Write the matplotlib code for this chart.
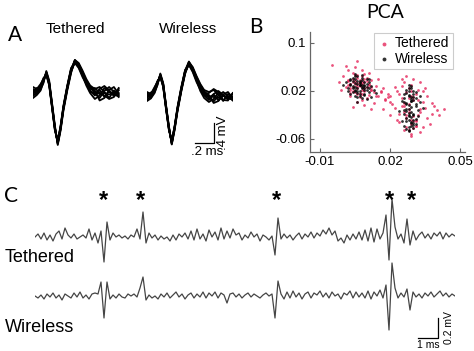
import numpy as np
import matplotlib
matplotlib.use("Agg")
import matplotlib.pyplot as plt

W, H = 474, 351
plt.rcParams['font.family'] = ['Liberation Sans', 'DejaVu Sans']

# ---------------- Panel A: overlaid spike waveforms (ms, mV) ----------------
t_wave = [0.00, 0.04, 0.08, 0.11, 0.14, 0.17, 0.20, 0.23, 0.26, 0.29, 0.32, 0.36,
          0.40, 0.44, 0.48, 0.52, 0.56, 0.60, 0.65, 0.70, 0.75, 0.80, 0.85, 0.90]
tethered_spikes = [
    [0.00, 0.05, 0.12, 0.25, 0.40, 0.20, -0.25, -0.70, -1.00, -0.70, -0.30, 0.10, 0.45, 0.64, 0.55, 0.38, 0.22, 0.10, 0.02, -0.02, 0.00, -0.03, 0.01, 0.00],
    [0.08, 0.02, 0.15, 0.30, 0.36, 0.15, -0.30, -0.75, -0.96, -0.65, -0.25, 0.15, 0.50, 0.60, 0.50, 0.32, 0.18, 0.05, -0.05, 0.06, -0.08, 0.04, -0.06, 0.05],
    [-0.06, 0.00, 0.08, 0.20, 0.44, 0.25, -0.20, -0.65, -1.04, -0.75, -0.35, 0.05, 0.40, 0.66, 0.60, 0.45, 0.28, 0.15, 0.08, 0.12, 0.02, -0.10, 0.05, -0.04],
    [0.12, 0.08, 0.18, 0.28, 0.38, 0.18, -0.28, -0.72, -0.98, -0.68, -0.28, 0.12, 0.48, 0.62, 0.52, 0.35, 0.15, 0.00, -0.12, -0.05, 0.10, 0.02, -0.02, 0.08],
    [-0.10, -0.04, 0.05, 0.22, 0.42, 0.22, -0.22, -0.68, -1.02, -0.72, -0.32, 0.08, 0.42, 0.63, 0.58, 0.42, 0.25, 0.12, 0.05, -0.15, -0.10, 0.06, 0.12, -0.02],
    [0.03, 0.10, 0.10, 0.26, 0.39, 0.19, -0.26, -0.71, -0.99, -0.69, -0.29, 0.11, 0.46, 0.65, 0.56, 0.40, 0.20, 0.08, 0.10, 0.00, -0.05, -0.12, -0.08, 0.10],
    [-0.03, 0.06, 0.14, 0.24, 0.41, 0.21, -0.24, -0.69, -1.01, -0.71, -0.31, 0.09, 0.44, 0.61, 0.54, 0.36, 0.24, 0.14, -0.02, 0.08, 0.14, 0.05, -0.04, -0.06],
    [0.05, -0.02, 0.10, 0.27, 0.37, 0.17, -0.27, -0.73, -0.97, -0.67, -0.27, 0.13, 0.47, 0.66, 0.57, 0.37, 0.19, 0.02, 0.00, -0.10, 0.04, 0.12, 0.02, -0.08],
]
wireless_spikes = [
    [0.00, 0.06, 0.15, 0.28, 0.44, 0.25, -0.20, -0.62, -0.92, -0.62, -0.25, 0.15, 0.50, 0.68, 0.55, 0.36, 0.20, 0.08, 0.02, 0.00, -0.02, 0.02, 0.00, 0.01],
    [0.07, 0.02, 0.18, 0.32, 0.40, 0.20, -0.25, -0.66, -0.88, -0.58, -0.20, 0.20, 0.54, 0.64, 0.50, 0.30, 0.15, 0.03, -0.06, 0.05, -0.07, 0.03, -0.05, 0.06],
    [-0.05, 0.00, 0.10, 0.24, 0.47, 0.28, -0.16, -0.58, -0.95, -0.66, -0.29, 0.11, 0.46, 0.70, 0.60, 0.42, 0.26, 0.14, 0.10, 0.14, 0.04, -0.08, 0.06, -0.03],
    [0.10, 0.06, 0.20, 0.30, 0.42, 0.22, -0.22, -0.64, -0.90, -0.60, -0.22, 0.18, 0.52, 0.66, 0.52, 0.33, 0.12, -0.02, -0.10, -0.04, 0.09, 0.03, -0.03, 0.07],
    [-0.08, -0.03, 0.08, 0.25, 0.45, 0.26, -0.18, -0.60, -0.94, -0.64, -0.27, 0.13, 0.48, 0.67, 0.58, 0.40, 0.24, 0.11, 0.04, -0.12, -0.08, 0.05, 0.10, -0.02],
    [0.02, 0.09, 0.12, 0.29, 0.43, 0.24, -0.21, -0.63, -0.91, -0.61, -0.24, 0.16, 0.51, 0.69, 0.56, 0.38, 0.18, 0.06, 0.08, 0.16, 0.10, -0.06, -0.07, 0.08],
    [-0.02, 0.05, 0.16, 0.27, 0.44, 0.25, -0.19, -0.61, -0.93, -0.63, -0.26, 0.14, 0.49, 0.65, 0.54, 0.35, 0.22, 0.12, -0.03, 0.06, 0.12, 0.04, -0.03, -0.05],
    [0.04, -0.02, 0.13, 0.31, 0.41, 0.21, -0.23, -0.65, -0.89, -0.59, -0.23, 0.17, 0.53, 0.71, 0.57, 0.37, 0.21, 0.04, 0.00, -0.09, 0.03, 0.10, 0.02, -0.07],
]

# ---------------- Panel B: PCA scatter ----------------
teth_pc1 = [0.002, 0.004, 0.006, 0.008, 0.010, 0.003, 0.005, 0.007, 0.009, 0.011, 0.001, 0.004, 0.006, 0.008, 0.012,
            0.002, 0.005, 0.007, 0.009, 0.013, 0.000, 0.003, 0.006, 0.010, 0.014, 0.004, 0.008, 0.011, 0.015, -0.001,
            0.002, 0.006, 0.009, 0.012, 0.016, 0.005, 0.007, 0.010, 0.003, 0.008, 0.013, 0.018, -0.002, 0.001, 0.011,
            0.017, 0.004, 0.009, 0.015, 0.020, -0.005, 0.006, 0.012, 0.019, 0.007,
            0.004, 0.006, 0.008, 0.005, 0.007, 0.003, 0.009, 0.006, 0.010, 0.004, 0.008, 0.002, 0.007, 0.011, 0.005,
            0.009, 0.003, 0.006, 0.012, 0.008,
            0.026, 0.028, 0.030, 0.027, 0.029, 0.031, 0.025, 0.032, 0.024, 0.033, 0.022, 0.034, 0.020, 0.036, 0.018,
            0.038, 0.016, 0.040, 0.027, 0.029, 0.026, 0.031, 0.023, 0.035, 0.021, 0.037, 0.019, 0.039, 0.028, 0.030,
            0.025, 0.033, 0.014, 0.041, 0.017, 0.035, 0.029, 0.027, 0.032, 0.024, 0.022, 0.036, 0.030, 0.026, 0.034,
            0.020, 0.038, 0.028, 0.031, 0.023, 0.043, 0.012, 0.029, 0.033, 0.025,
            0.028, 0.030, 0.027, 0.029, 0.031, 0.026, 0.032, 0.028, 0.030, 0.025, 0.033, 0.029, 0.027, 0.031, 0.028,
            0.024, 0.034, 0.029, 0.030, 0.026]
teth_pc2 = [0.030, 0.035, 0.028, 0.032, 0.026, 0.022, 0.018, 0.038, 0.020, 0.030, 0.027, 0.040, 0.024, 0.015, 0.022,
            0.036, 0.031, 0.010, 0.034, 0.018, 0.044, 0.012, 0.046, 0.042, 0.028, 0.050, 0.005, 0.013, 0.012, 0.022,
            0.055, 0.002, 0.048, 0.038, 0.020, 0.060, 0.028, 0.008, 0.016, 0.054, 0.000, 0.006, 0.035, 0.062, 0.050,
            0.024, -0.006, -0.004, 0.040, 0.002, 0.063, 0.070, -0.010, 0.015, 0.033,
            0.026, 0.033, 0.021, 0.037, 0.029, 0.031, 0.025, 0.041, 0.036, 0.019, 0.044, 0.038, 0.017, 0.031, 0.047,
            0.040, 0.024, 0.014, 0.027, 0.034,
            0.000, -0.010, 0.010, -0.020, 0.020, -0.030, -0.005, 0.005, 0.015, -0.015, -0.008, 0.002, 0.012, -0.025, 0.005,
            -0.018, 0.018, -0.012, -0.040, 0.030, 0.035, -0.038, -0.028, 0.025, -0.002, -0.035, 0.010, -0.005, -0.045, 0.040,
            0.028, -0.048, 0.012, -0.020, -0.010, -0.008, -0.052, 0.045, 0.022, -0.032, 0.026, 0.012, -0.022, -0.015, -0.040,
            -0.020, 0.000, 0.008, -0.028, 0.020, -0.010, 0.022, -0.055, 0.035, 0.040,
            -0.015, 0.005, -0.025, -0.035, 0.015, -0.005, -0.020, 0.025, -0.042, 0.008, -0.010, -0.028, 0.018, -0.038, -0.002,
            -0.018, 0.020, 0.012, -0.030, -0.045]
wire_pc1 = [0.004, 0.006, 0.008, 0.005, 0.007, 0.009, 0.003, 0.010, 0.006, 0.008, 0.002, 0.011, 0.005, 0.007, 0.009,
            0.004, 0.006, 0.012, 0.003, 0.008, 0.010, 0.005, 0.007, 0.001, 0.013, 0.006, 0.009, 0.004, 0.011, 0.008,
            0.002, 0.007, 0.010, 0.005, 0.014, 0.003, 0.009, 0.006, 0.012, 0.000,
            0.005, 0.007, 0.009, 0.004, 0.006, 0.008, 0.010, 0.003, 0.005, 0.007, 0.009, 0.011, 0.006, 0.008, 0.004,
            0.010, 0.007, 0.005, 0.009, 0.006, 0.008, 0.003, 0.011, 0.007, 0.005,
            0.027, 0.028, 0.029, 0.030, 0.026, 0.031, 0.027, 0.029, 0.028, 0.030, 0.025, 0.032, 0.026, 0.031, 0.028,
            0.029, 0.027, 0.030, 0.033, 0.026, 0.029, 0.028, 0.031, 0.027, 0.030, 0.025, 0.032, 0.028, 0.029, 0.034,
            0.026, 0.030, 0.028, 0.031, 0.027, 0.029, 0.024, 0.033, 0.028, 0.030,
            0.028, 0.029, 0.027, 0.030, 0.028, 0.029, 0.027, 0.030, 0.028, 0.029, 0.031, 0.026, 0.028, 0.029, 0.030,
            0.027, 0.028, 0.031, 0.029, 0.028, 0.030, 0.027, 0.029, 0.028, 0.026]
wire_pc2 = [0.028, 0.024, 0.030, 0.020, 0.034, 0.022, 0.032, 0.026, 0.016, 0.038, 0.025, 0.018, 0.040, 0.012, 0.030,
            0.036, 0.044, 0.028, 0.015, 0.008, 0.040, 0.027, 0.020, 0.034, 0.022, 0.010, 0.014, 0.042, 0.034, 0.046,
            0.020, 0.030, 0.006, 0.048, 0.016, 0.038, 0.024, 0.002, 0.010, 0.030,
            0.021, 0.029, 0.035, 0.025, 0.019, 0.027, 0.031, 0.039, 0.033, 0.037, 0.013, 0.025, 0.031, 0.042, 0.018,
            0.021, 0.015, 0.044, 0.028, 0.036, 0.024, 0.030, 0.039, 0.033, 0.011,
            0.000, -0.010, 0.010, -0.020, 0.015, -0.005, -0.025, -0.015, 0.020, 0.005, -0.030, -0.012, 0.008, -0.035, -0.040,
            0.025, -0.002, -0.028, 0.002, -0.018, -0.032, 0.012, 0.018, 0.022, -0.042, 0.004, -0.022, -0.045, 0.028, -0.008,
            -0.038, 0.014, -0.020, -0.026, -0.010, 0.004, -0.014, 0.012, 0.030, -0.036,
            -0.004, 0.007, -0.013, -0.018, -0.028, -0.033, 0.016, 0.010, -0.022, -0.038, -0.001, 0.001, 0.024, -0.007, -0.034,
            -0.043, 0.013, 0.008, -0.024, -0.016, 0.019, -0.030, 0.003, -0.047, -0.011]
pca_xticks = [-0.01, 0.02, 0.05]
pca_xticklabels = ["-0.01", "0.02", "0.05"]
pca_yticks = [-0.06, 0.02, 0.1]
pca_yticklabels = ["-0.06", "0.02", "0.1"]

# ---------------- Panel C: raw traces (mV, sampled every 0.15 ms) ----------------
dt_ms = 0.15
tethered_trace = [
    0.00, 0.03, -0.02, 0.04, -0.03, 0.02, -0.04, 0.03, 0.06, -0.02,
    0.09, 0.02, -0.01, 0.03, -0.02, 0.00, 0.02, -0.01, 0.08, -0.03,
    0.04, -0.06, 0.06, -0.25, 0.15, -0.03, 0.04, 0.00, 0.02, -0.01,
    0.01, -0.02, 0.02, 0.00, 0.08, -0.02, 0.25, -0.06, 0.04, -0.01,
    0.02, -0.03, 0.01, -0.02, 0.00, -0.04, 0.02, -0.03, 0.03, 0.00,
    0.04, -0.02, 0.06, -0.03, 0.08, -0.02, 0.03, -0.04, 0.07, 0.00,
    0.05, -0.03, 0.09, -0.02, 0.06, -0.01, 0.08, 0.02, 0.04, -0.03,
    0.02, -0.01, 0.05, 0.00, 0.03, -0.04, 0.02, 0.00, -0.03, 0.01,
    -0.18, 0.19, -0.02, 0.03, -0.01, 0.02, -0.03, 0.01, 0.04, -0.02,
    0.03, 0.00, 0.05, -0.01, 0.04, 0.01, 0.07, 0.03, 0.09, 0.02,
    0.06, -0.04, -0.01, -0.06, 0.02, -0.03, 0.03, -0.02, 0.05, -0.03,
    0.07, -0.04, 0.09, -0.05, 0.08, -0.02, 0.04, 0.22, -0.23, 0.38,
    0.10, -0.02, 0.03, -0.06, 0.18, -0.08, 0.06, -0.03, 0.02, 0.05,
    -0.01, 0.03, -0.02, 0.04, 0.01, 0.05, -0.02, 0.04, 0.00, 0.03,
    0.01]
wireless_trace = [
    0.00, -0.02, 0.01, -0.03, 0.02, -0.01, 0.03, -0.02, 0.01, -0.04,
    0.02, 0.00, -0.02, 0.03, -0.01, 0.04, -0.02, 0.01, -0.03, 0.02,
    0.03, 0.02, 0.14, -0.22, 0.14, -0.03, 0.01, -0.02, 0.02, -0.01,
    -0.02, 0.02, 0.00, 0.02, -0.01, 0.08, 0.19, -0.04, 0.01, -0.02,
    0.00, -0.03, 0.02, -0.01, 0.03, -0.02, 0.01, 0.04, -0.01, 0.02,
    -0.03, 0.01, 0.03, -0.02, 0.02, -0.01, 0.04, -0.02, 0.03, 0.00,
    0.04, -0.02, 0.03, 0.01, -0.07, 0.02, 0.03, -0.01, 0.02, -0.02,
    0.01, 0.03, -0.01, 0.02, 0.00, -0.02, 0.01, 0.03, 0.00, 0.02,
    -0.22, 0.15, 0.02, -0.03, 0.04, -0.02, 0.05, -0.01, 0.03, -0.03,
    0.02, 0.04, -0.02, 0.03, 0.01, 0.05, -0.01, 0.03, -0.02, 0.04,
    0.00, 0.02, -0.03, 0.03, 0.01, 0.05, -0.02, 0.04, -0.01, 0.03,
    -0.02, 0.05, -0.03, 0.04, 0.00, 0.06, -0.02, 0.11, -0.34, 0.33,
    0.08, -0.02, 0.03, -0.01, 0.07, -0.14, 0.04, -0.01, 0.02, -0.02,
    0.03, 0.00, 0.04, -0.01, 0.02, 0.05, 0.00, 0.03, -0.01, 0.02,
    0.00]
spike_marks_ms = [3.45, 5.3, 12.1, 17.75, 18.85]


def rect(x0, y0, x1, y1):
    return [x0 / W, 1 - y1 / H, (x1 - x0) / W, (y1 - y0) / H]


fig = plt.figure(figsize=(W / 100, H / 100), dpi=100)
fig.patch.set_facecolor('white')
letter_font = ['Lato', 'DejaVu Sans']

# ---- Panel A ----
axA1 = fig.add_axes(rect(33, 50, 120, 155))
axA1.set_xlim(0, 0.914)
axA1.set_ylim(-1.24, 0.86)
for tr in tethered_spikes:
    axA1.plot(t_wave, tr, color='black', lw=1.3, solid_joinstyle='round')
axA1.axis('off')

axA2 = fig.add_axes(rect(147, 50, 233, 155))
axA2.set_xlim(0, 0.903)
axA2.set_ylim(-1.16, 0.94)
for tr in wireless_spikes:
    axA2.plot(t_wave, tr, color='black', lw=1.3, solid_joinstyle='round')
axA2.axis('off')
# scale bar (.2 ms, .4 mV)
sb_x1, sb_y0 = 0.70, -0.92
axA2.plot([sb_x1 - 0.2, sb_x1, sb_x1], [sb_y0, sb_y0, sb_y0 + 0.4], color='black', lw=0.9, clip_on=False)
axA2.text(sb_x1 - 0.07, sb_y0 - 0.06, '.2 ms', ha='center', va='top', fontsize=9.5)
axA2.text(sb_x1 + 0.03, sb_y0 + 0.2, '.4 mV', ha='left', va='center', rotation=90, fontsize=9.5)

fig.text(75 / W, 1 - 29 / H, 'Tethered', ha='center', va='center', fontsize=11)
fig.text(188 / W, 1 - 29 / H, 'Wireless', ha='center', va='center', fontsize=11)
fig.text(15 / W, 1 - 35 / H, 'A', ha='center', va='center', fontsize=15, family=letter_font)

# ---- Panel B ----
axB = fig.add_axes(rect(310, 32, 465, 152))
axB.scatter(teth_pc1, teth_pc2, s=4, color='#e5285c', linewidths=0, label='Tethered', alpha=0.8)
axB.scatter(wire_pc1, wire_pc2, s=4, color='black', linewidths=0, label='Wireless', alpha=0.8)
axB.set_xlim(-0.0143, 0.0521)
axB.set_ylim(-0.0817, 0.118)
axB.set_xticks(pca_xticks)
axB.set_xticklabels(pca_xticklabels)
axB.set_yticks(pca_yticks)
axB.set_yticklabels(pca_yticklabels)
for s in ['top', 'right']:
    axB.spines[s].set_visible(False)
for s in ['left', 'bottom']:
    axB.spines[s].set_color('#666666')
    axB.spines[s].set_linewidth(0.9)
axB.tick_params(direction='in', length=3, width=0.8, color='#666666', labelsize=9.5, pad=3)
leg = axB.legend(loc='upper right', bbox_to_anchor=(453 / W, 1 - 33 / H), bbox_transform=fig.transFigure,
                 fontsize=10, markerscale=1.4, handletextpad=0.3, handlelength=1.0, borderpad=0.25,
                 labelspacing=0.1, fancybox=False, framealpha=1, borderaxespad=0)
leg.get_frame().set_edgecolor('#cccccc')
leg.get_frame().set_linewidth(0.8)
fig.text(385 / W, 1 - 13 / H, 'PCA', ha='center', va='center', fontsize=14, family=letter_font)
fig.text(256 / W, 1 - 27 / H, 'B', ha='center', va='center', fontsize=15, family=letter_font)

# ---- Panel C ----
axC = fig.add_axes(rect(35, 188, 455, 350))
axC.set_xlim(0, 21)
axC.set_ylim(-1.13, 0.49)
t_trace = np.arange(len(tethered_trace)) * dt_ms
wireless_offset = -0.59
axC.plot(t_trace, tethered_trace, color='#454545', lw=0.9)
axC.plot(np.arange(len(wireless_trace)) * dt_ms, np.array(wireless_trace) + wireless_offset, color='#454545', lw=0.9)
for tm in spike_marks_ms:
    axC.text(tm, 0.36, '*', ha='center', va='center', fontsize=17, fontweight='bold')
axC.axis('off')
# scale bar (1 ms, 0.2 mV)
cb_x1, cb_y0 = 20.15, -1.01
axC.plot([cb_x1 - 1, cb_x1, cb_x1], [cb_y0, cb_y0, cb_y0 + 0.2], color='black', lw=0.9, clip_on=False)
axC.text(cb_x1 - 0.5, cb_y0 - 0.02, '1 ms', ha='center', va='top', fontsize=7.5)
axC.text(cb_x1 + 0.3, cb_y0 + 0.1, '0.2 mV', ha='left', va='center', rotation=90, fontsize=7.5)

fig.text(11 / W, 1 - 196 / H, 'C', ha='center', va='center', fontsize=15, family=letter_font)
fig.text(5 / W, 1 - 258 / H, 'Tethered', ha='left', va='center', fontsize=13)
fig.text(5 / W, 1 - 327 / H, 'Wireless', ha='left', va='center', fontsize=13)

fig.savefig('out.png', dpi=100)
